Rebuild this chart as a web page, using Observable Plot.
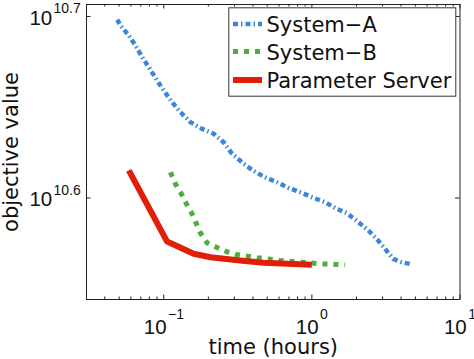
<!DOCTYPE html>
<html><head><meta charset="utf-8">
<script src="https://cdn.jsdelivr.net/npm/d3@7"></script>
<script src="https://cdn.jsdelivr.net/npm/@observablehq/plot@0.6"></script>
<style>html,body{margin:0;padding:0;background:#fff;} #chart svg{display:block;}</style>
</head><body><div id="chart"></div>
<script>
// ---- data (time in hours, objective as log10 value) ----
const seriesNames = ["System\u2212A", "System\u2212B", "Parameter Server"];
const seriesColors = ["#3a86dc", "#4caf3c", "#e11e0a"];

const sysATime = [0.0485, 0.0511, 0.0581, 0.0645, 0.0715, 0.0792, 0.0903, 0.1, 0.1139, 0.1296, 0.1513, 0.1815, 0.2173, 0.2537, 0.289, 0.3375, 0.3941, 0.4719, 0.5809, 0.6956, 0.8341, 1.025, 1.229, 1.474, 1.721, 2.061, 2.406, 2.742, 3.118, 3.548, 4.042, 4.597];
const sysALogObj = [10.6983, 10.695, 10.6895, 10.684, 10.6776, 10.6721, 10.6647, 10.6592, 10.6528, 10.6473, 10.6418, 10.6381, 10.6354, 10.6307, 10.6244, 10.6197, 10.6155, 10.6118, 10.6087, 10.6056, 10.6032, 10.6001, 10.5977, 10.594, 10.5917, 10.5867, 10.5821, 10.5775, 10.572, 10.5665, 10.5646, 10.5637];

const sysBTime = [0.1109, 0.1199, 0.1316, 0.1422, 0.1553, 0.1661, 0.1768, 0.1961, 0.2265, 0.2645, 0.309, 0.4259, 0.6113, 0.8561, 1.197, 1.676];
const sysBLogObj = [10.6142, 10.6078, 10.6023, 10.5968, 10.5913, 10.5858, 10.5808, 10.5753, 10.5729, 10.5705, 10.5689, 10.5671, 10.5656, 10.5646, 10.5637, 10.5632];

const psTime = [0.0581, 0.1054, 0.1593, 0.2064, 0.3287, 0.4719, 1.0];
const psLogObj = [10.6152, 10.576, 10.5693, 10.5674, 10.5656, 10.5643, 10.5632];

const xMajorTicks = [0.1, 1, 10];
const xMajorExps = ["\u22121", "0", "1"];
const xMinorTicks = [0.04, 0.05, 0.06, 0.07, 0.08, 0.09, 0.2, 0.3, 0.4, 0.5, 0.6, 0.7, 0.8, 0.9, 2, 3, 4, 5, 6, 7, 8, 9];
const yTicks = [10.6, 10.7];
const yTickExps = ["10.6", "10.7"];
const xDomain = [0.0301, 10];
const yDomain = [10.5441, 10.7066];

// ---- layout ----
const W = 474, H = 359, mL = 86, mR = 14.5, mT = 4, mB = 60;
const frameH = H - mT - mB, frameW = W - mL - mR;
const tickFont = "Liberation Sans, Arial, sans-serif";
const labelFont = "DejaVu Sans, sans-serif";

const seriesData = [
  sysATime.map((t, i) => ({time: t, logObj: sysALogObj[i]})),
  sysBTime.map((t, i) => ({time: t, logObj: sysBLogObj[i]})),
  psTime.map((t, i) => ({time: t, logObj: psLogObj[i]}))
];
const lineStyles = [
  {strokeWidth: 4.5, strokeDasharray: "5,3,1.5,3"},
  {strokeWidth: 5, strokeDasharray: "5,6"},
  {strokeWidth: 6}
];
const legendLineY = [23.5, 51, 79.5];
const legendTextY = [24.5, 52.5, 80.5];

const marks = [];
// data lines
seriesData.forEach((rows, i) => {
  marks.push(Plot.line(rows, {x: "time", y: "logObj", stroke: seriesColors[i], strokeLinecap: "butt", strokeLinejoin: "round", ...lineStyles[i]}));
});
// frame
marks.push(Plot.frame({stroke: "#222", strokeWidth: 1}));
// x ticks, bottom and top
marks.push(Plot.tickX(xMajorTicks, {x: d => d, insetTop: frameH - 4.5, stroke: "#222"}));
marks.push(Plot.tickX(xMajorTicks, {x: d => d, insetBottom: frameH - 4.5, stroke: "#222"}));
marks.push(Plot.tickX(xMinorTicks, {x: d => d, insetTop: frameH - 2.5, stroke: "#222"}));
marks.push(Plot.tickX(xMinorTicks, {x: d => d, insetBottom: frameH - 2.5, stroke: "#222"}));
// y ticks, left and right
marks.push(Plot.tickY(yTicks, {y: d => d, insetRight: frameW - 4.5, stroke: "#222"}));
marks.push(Plot.tickY(yTicks, {y: d => d, insetLeft: frameW - 4.5, stroke: "#222"}));
// x tick labels 10^k
xMajorTicks.forEach((v, i) => {
  const supW = 7.8 * xMajorExps[i].length;
  const a = (22.8 + 1.5 + supW) / 2 - supW - 1.5;
  marks.push(Plot.text([v], {x: d => d, frameAnchor: "bottom", lineAnchor: "middle", text: () => "10", textAnchor: "end", dx: a, dy: 27.6, fontSize: 20.5, fontFamily: tickFont, fill: "#111"}));
  marks.push(Plot.text([v], {x: d => d, frameAnchor: "bottom", lineAnchor: "middle", text: () => xMajorExps[i], textAnchor: "start", dx: a + 1.5, dy: 14.9, fontSize: 14, fontFamily: tickFont, fill: "#111"}));
});
// y tick labels 10^e
marks.push(Plot.text(yTicks, {y: d => d, frameAnchor: "left", lineAnchor: "middle", text: () => "10", textAnchor: "end", dx: -34.3, dy: 1.8, fontSize: 20.5, fontFamily: tickFont, fill: "#111"}));
marks.push(Plot.text(yTicks, {y: d => d, frameAnchor: "left", lineAnchor: "middle", text: (d, i) => yTickExps[i], textAnchor: "start", dx: -33, dy: -7.7, fontSize: 14, fontFamily: tickFont, fill: "#111"}));
// axis titles
marks.push(Plot.text(["time (hours)"], {frameAnchor: "bottom", lineAnchor: "middle", textAnchor: "middle", text: d => d, dy: 47.6, fontSize: 21, fontFamily: labelFont, fill: "#111"}));
marks.push(Plot.text(["objective value"], {frameAnchor: "left", lineAnchor: "middle", textAnchor: "middle", text: d => d, rotate: -90, dx: 10.6 - mL, fontSize: 21, fontFamily: labelFont, fill: "#111"}));
// legend
marks.push(Plot.frame({fill: "white", stroke: "#333", strokeWidth: 1,
  insetLeft: 228.3 - mL, insetRight: (W - mR) - 455.3, insetTop: 7.3 - mT, insetBottom: (H - mB) - 95.7}));
seriesNames.forEach((name, i) => {
  marks.push(Plot.ruleY([yDomain[1]], {y: d => d, dy: legendLineY[i] - mT, insetLeft: 233 - mL, insetRight: (W - mR) - 262,
    stroke: seriesColors[i], strokeLinecap: "butt", ...lineStyles[i]}));
  marks.push(Plot.text([name], {frameAnchor: "top-left", lineAnchor: "middle", text: d => d, textAnchor: "start", dx: 266 - mL, dy: legendTextY[i] - mT,
    fontSize: 21, fontFamily: labelFont, fill: "#111"}));
});

const chart = Plot.plot({
  width: W, height: H,
  marginLeft: mL, marginRight: mR, marginTop: mT, marginBottom: mB,
  style: {background: "white", fontFamily: labelFont, overflow: "visible"},
  x: {type: "log", domain: xDomain, axis: null},
  y: {type: "linear", domain: yDomain, axis: null},
  marks
});
document.getElementById("chart").appendChild(chart);
</script>
</body></html>
